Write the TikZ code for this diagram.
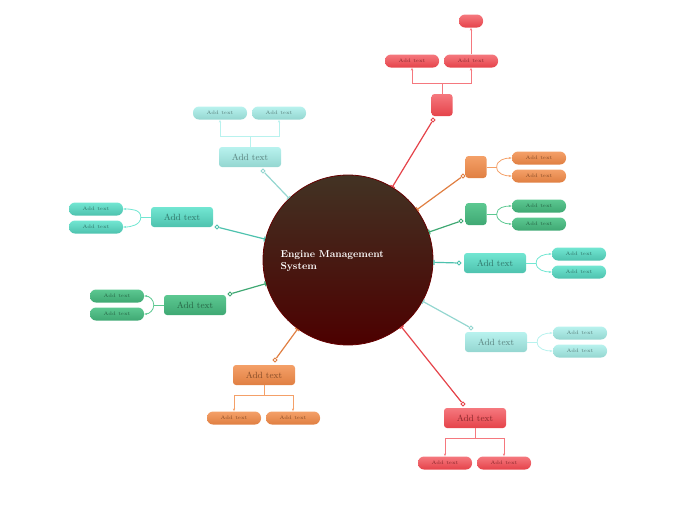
\documentclass[tikz,border=0pt]{standalone}
\usetikzlibrary{arrows.meta,calc}
\definecolor{rd}{HTML}{E5434A}\definecolor{rdt}{HTML}{F5787E}
\definecolor{og}{HTML}{E07F42}\definecolor{ogt}{HTML}{F4A068}
\definecolor{gr}{HTML}{3FA873}\definecolor{grt}{HTML}{5CC891}
\definecolor{tl}{HTML}{4EC2AE}\definecolor{tlt}{HTML}{72E6D2}
\definecolor{lt}{HTML}{94D6D0}\definecolor{ltt}{HTML}{B8F2EE}
\tikzset{
 box/.style={rounded corners=3pt,top color=#1t,bottom color=#1,draw=none,text=#1!60!black,font=\small,inner sep=0pt},
 pill/.style={rounded corners=6pt,top color=#1t,bottom color=#1,draw=none,text=#1!60!black,font=\tiny,minimum width=54pt,minimum height=13pt,inner sep=0pt},
 big/.style={box=#1,minimum width=62pt,minimum height=20pt},
 sq/.style={box=#1,minimum width=21pt,minimum height=22pt},
 ring/.style={circle,draw=#1,fill=white,line width=1pt,inner sep=1.4pt},
 conn/.style={draw=#1,line width=1.2pt,-{Bar[width=5pt]}},
 br/.style={draw=#1t,line width=0.8pt},
}
\begin{document}
\begin{tikzpicture}[x=1pt,y=-1pt]
\useasboundingbox (0,0) rectangle (697,520);
\node[circle,minimum size=170pt,top color=black!25!brown!80!white!40!black,bottom color=black!70!red,shading angle=0,draw=black!60!red,line width=0.8pt,inner sep=0pt] (c) at (348,260) {};
\node[text=white,font=\bfseries\normalsize,align=left,anchor=west] (ct) at (277,261) {Engine Management\\System};
% red top
\node[sq=rd] (r1) at (442,105) {};
\node[pill=rd] (r1a) at (412,61) {Add text};
\node[pill=rd] (r1b) at (471,61) {Add text};
\node[pill=rd,minimum width=24pt] (r1c) at (471,21) {};
\node[ring=rd] (r1r) at (433,120) {};
\draw[conn=rd] (r1r) -- (c);
\draw[br=rd,-{Stealth[length=3pt]}] (r1.north) -- ++(0,-10) -| (r1a.south);
\draw[br=rd,-{Stealth[length=3pt]}] (r1.north) ++(0,-10) -| (r1b.south);
\draw[br=rd,-{Stealth[length=3pt]}] (r1b.north) -- (r1c.south);
% orange right
\node[sq=og] (o1) at (476,167) {};
\node[pill=og] (o1a) at (539,158) {Add text};
\node[pill=og] (o1b) at (539,176) {Add text};
\node[ring=og] (o1r) at (463,176) {};
\draw[conn=og] (o1r) -- (c);
% green right
\node[sq=gr] (g1) at (476,214) {};
\node[pill=gr] (g1a) at (539,206) {Add text};
\node[pill=gr] (g1b) at (539,224) {Add text};
\node[ring=gr] (g1r) at (461,221) {};
\draw[conn=gr] (g1r) -- (c);
% teal right
\node[big=tl] (t1) at (495,263) {Add text};
\node[pill=tl] (t1a) at (579,254) {Add text};
\node[pill=tl] (t1b) at (579,272) {Add text};
\node[ring=tl] (t1r) at (459,263) {};
\draw[conn=tl] (t1r) -- (c);
% light teal right
\node[big=lt] (l1) at (496,342) {Add text};
\node[pill=lt] (l1a) at (580,333) {Add text};
\node[pill=lt] (l1b) at (580,351) {Add text};
\node[ring=lt] (l1r) at (471,328) {};
\draw[conn=lt] (l1r) -- (c);
% right brackets
\foreach \n/\a/\b/\k in {o1/o1a/o1b/og,g1/g1a/g1b/gr,t1/t1a/t1b/tl,l1/l1a/l1b/lt}{
 \draw[br=\k] (\n.east) -- ++(10,0) coordinate (m);
 \draw[br=\k,-{Stealth[length=3pt]}] (m) to[out=90,in=180] (\a.west);
 \draw[br=\k,-{Stealth[length=3pt]}] (m) to[out=-90,in=180] (\b.west);
}
% red bottom
\node[big=rd] (r2) at (475,418) {Add text};
\node[pill=rd] (r2a) at (445,463) {Add text};
\node[pill=rd] (r2b) at (504,463) {Add text};
\node[ring=rd] (r2r) at (463,404) {};
\draw[conn=rd] (r2r) -- (c);
% orange bottom
\node[big=og] (o2) at (264,375) {Add text};
\node[pill=og] (o2a) at (234,418) {Add text};
\node[pill=og] (o2b) at (293,418) {Add text};
\node[ring=og] (o2r) at (275,360) {};
\draw[conn=og] (o2r) -- (c);
\foreach \n/\a/\b/\k in {r2/r2a/r2b/rd,o2/o2a/o2b/og}{
 \draw[br=\k] (\n.south) -- ++(0,10) coordinate (m);
 \draw[br=\k,-{Stealth[length=3pt]}] (m) -| (\a.north);
 \draw[br=\k,-{Stealth[length=3pt]}] (m) -| (\b.north);
}
% green left
\node[big=gr] (g2) at (195,305) {Add text};
\node[pill=gr] (g2a) at (117,296) {Add text};
\node[pill=gr] (g2b) at (117,314) {Add text};
\node[ring=gr] (g2r) at (230,294) {};
\draw[conn=gr] (g2r) -- (c);
% teal left
\node[big=tl] (t2) at (182,217) {Add text};
\node[pill=tl] (t2a) at (96,209) {Add text};
\node[pill=tl] (t2b) at (96,227) {Add text};
\node[ring=tl] (t2r) at (217,227) {};
\draw[conn=tl] (t2r) -- (c);
\foreach \n/\a/\b/\k in {g2/g2a/g2b/gr,t2/t2a/t2b/tl}{
 \draw[br=\k] (\n.west) -- ++(-10,0) coordinate (m);
 \draw[br=\k,-{Stealth[length=3pt]}] (m) to[out=90,in=0] (\a.east);
 \draw[br=\k,-{Stealth[length=3pt]}] (m) to[out=-90,in=0] (\b.east);
}
% light teal top
\node[big=lt] (l2) at (250,157) {Add text};
\node[pill=lt] (l2a) at (220,113) {Add text};
\node[pill=lt] (l2b) at (279,113) {Add text};
\node[ring=lt] (l2r) at (263,171) {};
\draw[conn=lt] (l2r) -- (c);
\draw[br=lt] (l2.north) -- ++(0,-10) coordinate (m);
\draw[br=lt,-{Stealth[length=3pt]}] (m) -| (l2a.south);
\draw[br=lt,-{Stealth[length=3pt]}] (m) -| (l2b.south);
\end{tikzpicture}
\end{document}
